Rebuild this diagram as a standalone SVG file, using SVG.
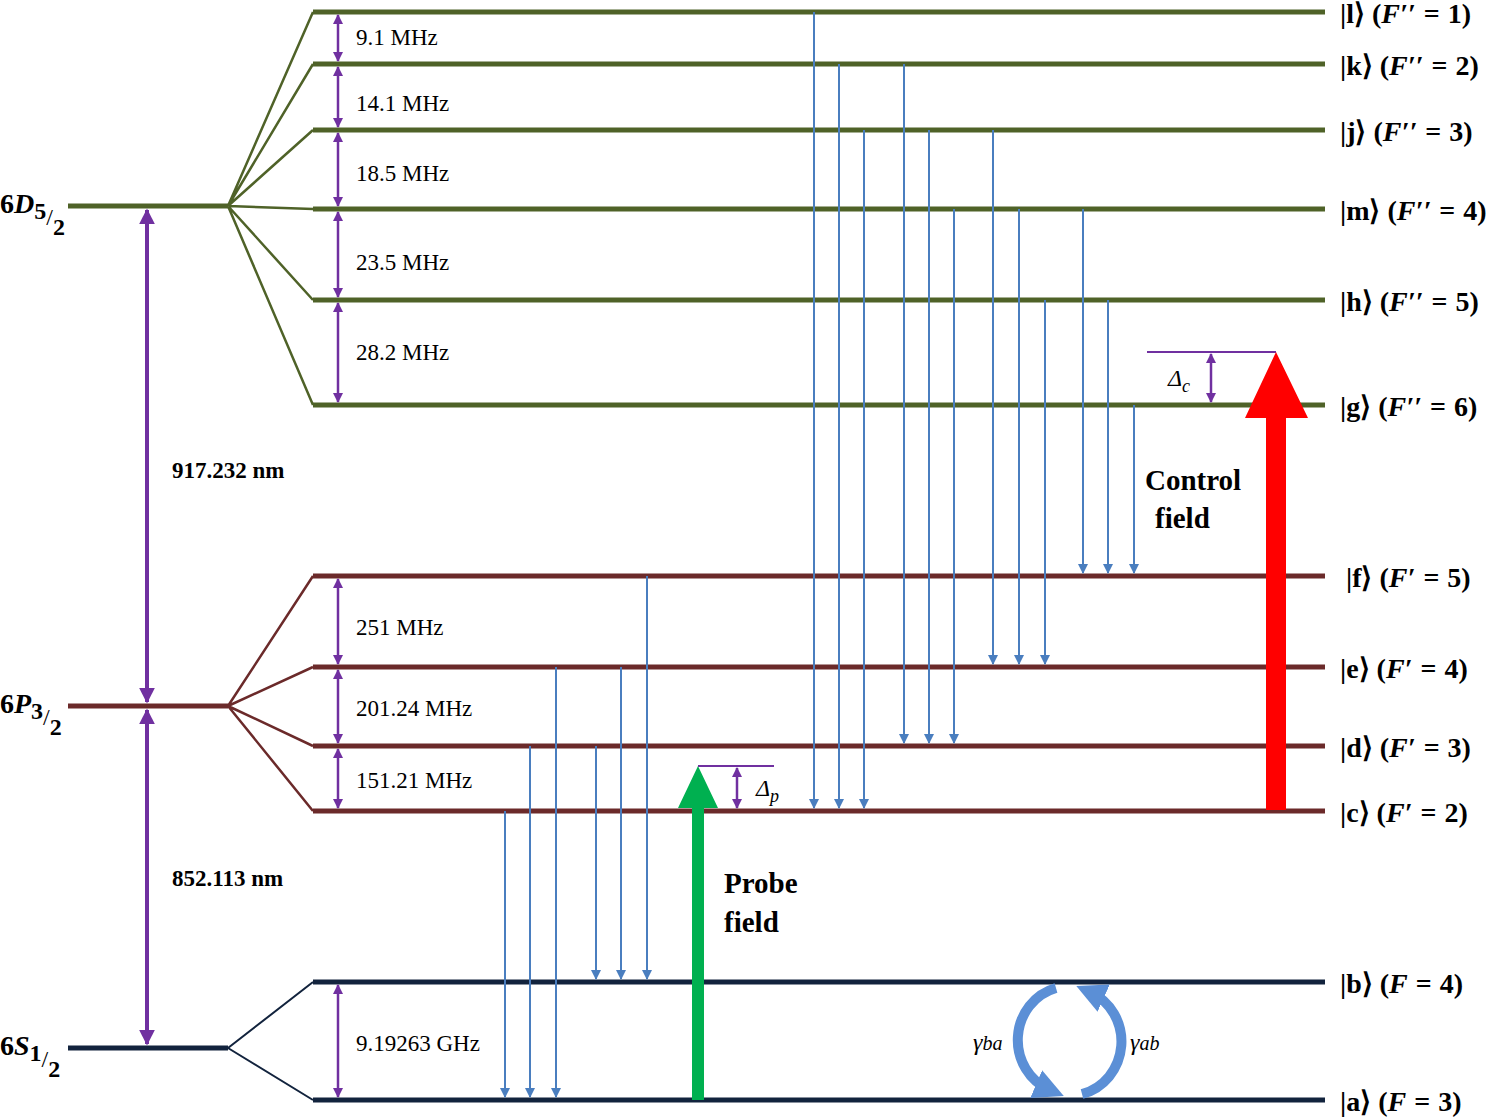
<svg xmlns="http://www.w3.org/2000/svg" width="1500" height="1118" viewBox="0 0 1500 1118">
<defs>
<marker id="pa" viewBox="0 0 10 10" refX="9" refY="5" markerWidth="4" markerHeight="4" orient="auto-start-reverse"><path d="M0,0L10,5L0,10z" fill="#7030a0"/></marker>
<marker id="ba" viewBox="0 0 10 10" refX="9" refY="5" markerWidth="11" markerHeight="10" markerUnits="userSpaceOnUse" orient="auto"><path d="M0,0L10,5L0,10z" fill="#4a7ebf"/></marker>
<marker id="ca" viewBox="0 0 10 10" refX="5" refY="5" markerWidth="3" markerHeight="3" orient="auto"><path d="M0,0L10,5L0,10z" fill="#5b8fd6"/></marker>
</defs>
<style>
.g{stroke:#4f6228;stroke-width:5}
.gf{stroke:#4f6228;stroke-width:2.5}
.r{stroke:#6b2a2a;stroke-width:5}
.rf{stroke:#6b2a2a;stroke-width:2.5}
.s{stroke:#12233d;stroke-width:5}
.sf{stroke:#12233d;stroke-width:2}
.pu{stroke:#7030a0;stroke-width:2.5;marker-start:url(#pa);marker-end:url(#pa)}
.pub{stroke:#7030a0;stroke-width:4;marker-start:url(#pa);marker-end:url(#pa)}
.bl{stroke:#4a7ebf;stroke-width:2;marker-end:url(#ba)}
text{font-family:"Liberation Serif",serif;fill:#000}
.lb{font-size:28px;font-weight:bold}
.fq{font-size:23px}
.bd{font-size:23px;font-weight:bold}
.big{font-size:29px;font-weight:bold}
.eq{font-weight:normal}
</style>
<g id="levels" fill="none">
<line class="g" x1="313" y1="12" x2="1325" y2="12"/>
<line class="g" x1="313" y1="64" x2="1325" y2="64"/>
<line class="g" x1="313" y1="130" x2="1325" y2="130"/>
<line class="g" x1="313" y1="209" x2="1325" y2="209"/>
<line class="g" x1="313" y1="300" x2="1325" y2="300"/>
<line class="g" x1="313" y1="405" x2="1325" y2="405"/>
<line class="r" x1="313" y1="576" x2="1325" y2="576"/>
<line class="r" x1="313" y1="667" x2="1325" y2="667"/>
<line class="r" x1="313" y1="746" x2="1325" y2="746"/>
<line class="r" x1="313" y1="811" x2="1325" y2="811"/>
<line class="s" x1="313" y1="982" x2="1325" y2="982"/>
<line class="s" x1="313" y1="1100" x2="1325" y2="1100"/>
<line class="g" x1="68" y1="206" x2="228" y2="206"/>
<line class="r" x1="68" y1="706" x2="228" y2="706"/>
<line class="s" x1="68" y1="1048" x2="228" y2="1048"/>
<path class="gf" d="M228,206L313,12M228,206L313,64M228,206L313,130M228,206L313,209M228,206L313,300M228,206L313,405"/>
<path class="rf" d="M228,706L313,576M228,706L313,667M228,706L313,746M228,706L313,811"/>
<path class="sf" d="M228,1048L313,982M228,1048L313,1100"/>
</g>
<g id="labels">
<text class="lb" x="1340" y="23">|l⟩ (<tspan font-style="italic">F′′</tspan><tspan dx="8">=</tspan><tspan dx="8">1)</tspan></text>
<text class="lb" x="1340" y="75">|k⟩ (<tspan font-style="italic">F′′</tspan><tspan dx="8">=</tspan><tspan dx="8">2)</tspan></text>
<text class="lb" x="1340" y="141">|j⟩ (<tspan font-style="italic">F′′</tspan><tspan dx="8">=</tspan><tspan dx="8">3)</tspan></text>
<text class="lb" x="1340" y="220">|m⟩ (<tspan font-style="italic">F′′</tspan><tspan dx="8">=</tspan><tspan dx="8">4)</tspan></text>
<text class="lb" x="1340" y="311">|h⟩ (<tspan font-style="italic">F′′</tspan><tspan dx="8">=</tspan><tspan dx="8">5)</tspan></text>
<text class="lb" x="1340" y="416">|g⟩ (<tspan font-style="italic">F′′</tspan><tspan dx="8">=</tspan><tspan dx="8">6)</tspan></text>
<text class="lb" x="1346" y="587">|f⟩ (<tspan font-style="italic">F′</tspan><tspan dx="8">=</tspan><tspan dx="8">5)</tspan></text>
<text class="lb" x="1340" y="678">|e⟩ (<tspan font-style="italic">F′</tspan><tspan dx="8">=</tspan><tspan dx="8">4)</tspan></text>
<text class="lb" x="1340" y="757">|d⟩ (<tspan font-style="italic">F′</tspan><tspan dx="8">=</tspan><tspan dx="8">3)</tspan></text>
<text class="lb" x="1340" y="822">|c⟩ (<tspan font-style="italic">F′</tspan><tspan dx="8">=</tspan><tspan dx="8">2)</tspan></text>
<text class="lb" x="1340" y="993">|b⟩ (<tspan font-style="italic">F</tspan><tspan dx="8">=</tspan><tspan dx="8">4)</tspan></text>
<text class="lb" x="1340" y="1111">|a⟩ (<tspan font-style="italic">F</tspan><tspan dx="8">=</tspan><tspan dx="8">3)</tspan></text>
<text class="lb" font-size="30" x="0" y="213">6<tspan font-style="italic">D</tspan><tspan font-size="24" dy="6">5</tspan><tspan font-size="24" font-weight="normal" dy="6">/</tspan><tspan font-size="24" dy="10">2</tspan></text>
<text class="lb" font-size="30" x="0" y="713">6<tspan font-style="italic">P</tspan><tspan font-size="24" dy="6">3</tspan><tspan font-size="24" font-weight="normal" dy="6">/</tspan><tspan font-size="24" dy="10">2</tspan></text>
<text class="lb" font-size="30" x="0" y="1055">6<tspan font-style="italic">S</tspan><tspan font-size="24" dy="6">1</tspan><tspan font-size="24" font-weight="normal" dy="6">/</tspan><tspan font-size="24" dy="10">2</tspan></text>
<text class="fq" x="356" y="45">9.1 MHz</text>
<text class="fq" x="356" y="111">14.1 MHz</text>
<text class="fq" x="356" y="181">18.5 MHz</text>
<text class="fq" x="356" y="270">23.5 MHz</text>
<text class="fq" x="356" y="360">28.2 MHz</text>
<text class="fq" x="356" y="635">251 MHz</text>
<text class="fq" x="356" y="716">201.24 MHz</text>
<text class="fq" x="356" y="788">151.21 MHz</text>
<text class="fq" x="356" y="1051">9.19263 GHz</text>
<text class="bd" x="172" y="478">917.232 nm</text>
<text class="bd" x="172" y="886">852.113 nm</text>
<text class="big" x="1145" y="490">Control</text>
<text class="big" x="1155" y="528">field</text>
<text class="big" x="724" y="893">Probe</text>
<text class="big" x="724" y="932">field</text>
<text font-size="24" font-style="italic" x="1168" y="386">Δ<tspan font-size="18" dy="6">c</tspan></text>
<text font-size="24" font-style="italic" x="756" y="796">Δ<tspan font-size="18" dy="6">p</tspan></text>
<text font-size="24" font-style="italic" x="973" y="1050">γ<tspan font-size="20">ba</tspan></text>
<text font-size="24" font-style="italic" x="1130" y="1050">γ<tspan font-size="20">ab</tspan></text>
</g>
<g id="connectors" fill="none">
<line class="pub" x1="147" y1="210" x2="147" y2="702"/>
<line class="pub" x1="147" y1="710" x2="147" y2="1044"/>
<line class="pu" x1="338" y1="15" x2="338" y2="61"/>
<line class="pu" x1="338" y1="67" x2="338" y2="127"/>
<line class="pu" x1="338" y1="133" x2="338" y2="206"/>
<line class="pu" x1="338" y1="212" x2="338" y2="297"/>
<line class="pu" x1="338" y1="303" x2="338" y2="402"/>
<line class="pu" x1="338" y1="579" x2="338" y2="664"/>
<line class="pu" x1="338" y1="670" x2="338" y2="743"/>
<line class="pu" x1="338" y1="749" x2="338" y2="808"/>
<line class="pu" x1="338" y1="985" x2="338" y2="1097"/>
<line class="pu" x1="1211" y1="354" x2="1211" y2="402"/>
<line class="pu" x1="737" y1="768" x2="737" y2="808"/>
<line x1="1147" y1="352" x2="1276" y2="352" stroke="#7030a0" stroke-width="2"/>
<line x1="698" y1="766" x2="774" y2="766" stroke="#7030a0" stroke-width="2"/>
<line class="bl" x1="814" y1="12" x2="814" y2="808"/>
<line class="bl" x1="839" y1="64" x2="839" y2="808"/>
<line class="bl" x1="864" y1="130" x2="864" y2="808"/>
<line class="bl" x1="904" y1="64" x2="904" y2="743"/>
<line class="bl" x1="929" y1="130" x2="929" y2="743"/>
<line class="bl" x1="954" y1="209" x2="954" y2="743"/>
<line class="bl" x1="993" y1="130" x2="993" y2="664"/>
<line class="bl" x1="1019" y1="209" x2="1019" y2="664"/>
<line class="bl" x1="1045" y1="300" x2="1045" y2="664"/>
<line class="bl" x1="1083" y1="209" x2="1083" y2="573"/>
<line class="bl" x1="1108" y1="300" x2="1108" y2="573"/>
<line class="bl" x1="1134" y1="405" x2="1134" y2="573"/>
<line class="bl" x1="647" y1="576" x2="647" y2="979"/>
<line class="bl" x1="621" y1="667" x2="621" y2="979"/>
<line class="bl" x1="596" y1="746" x2="596" y2="979"/>
<line class="bl" x1="556" y1="667" x2="556" y2="1097"/>
<line class="bl" x1="530" y1="746" x2="530" y2="1097"/>
<line class="bl" x1="505" y1="811" x2="505" y2="1097"/>
<path d="M692,1100V808H678L698,766L718,808H704V1100Z" fill="#00b050"/>
<path d="M1266,810V418H1245L1276,352L1308,418H1286V810Z" fill="#ff0000"/>
<path d="M1056,988A52,54 0 0 0 1050,1090" stroke="#5b8fd6" stroke-width="10" marker-end="url(#ca)"/>
<path d="M1082,1094A52,54 0 0 0 1090,992" stroke="#5b8fd6" stroke-width="10" marker-end="url(#ca)"/>
</g>
</svg>
